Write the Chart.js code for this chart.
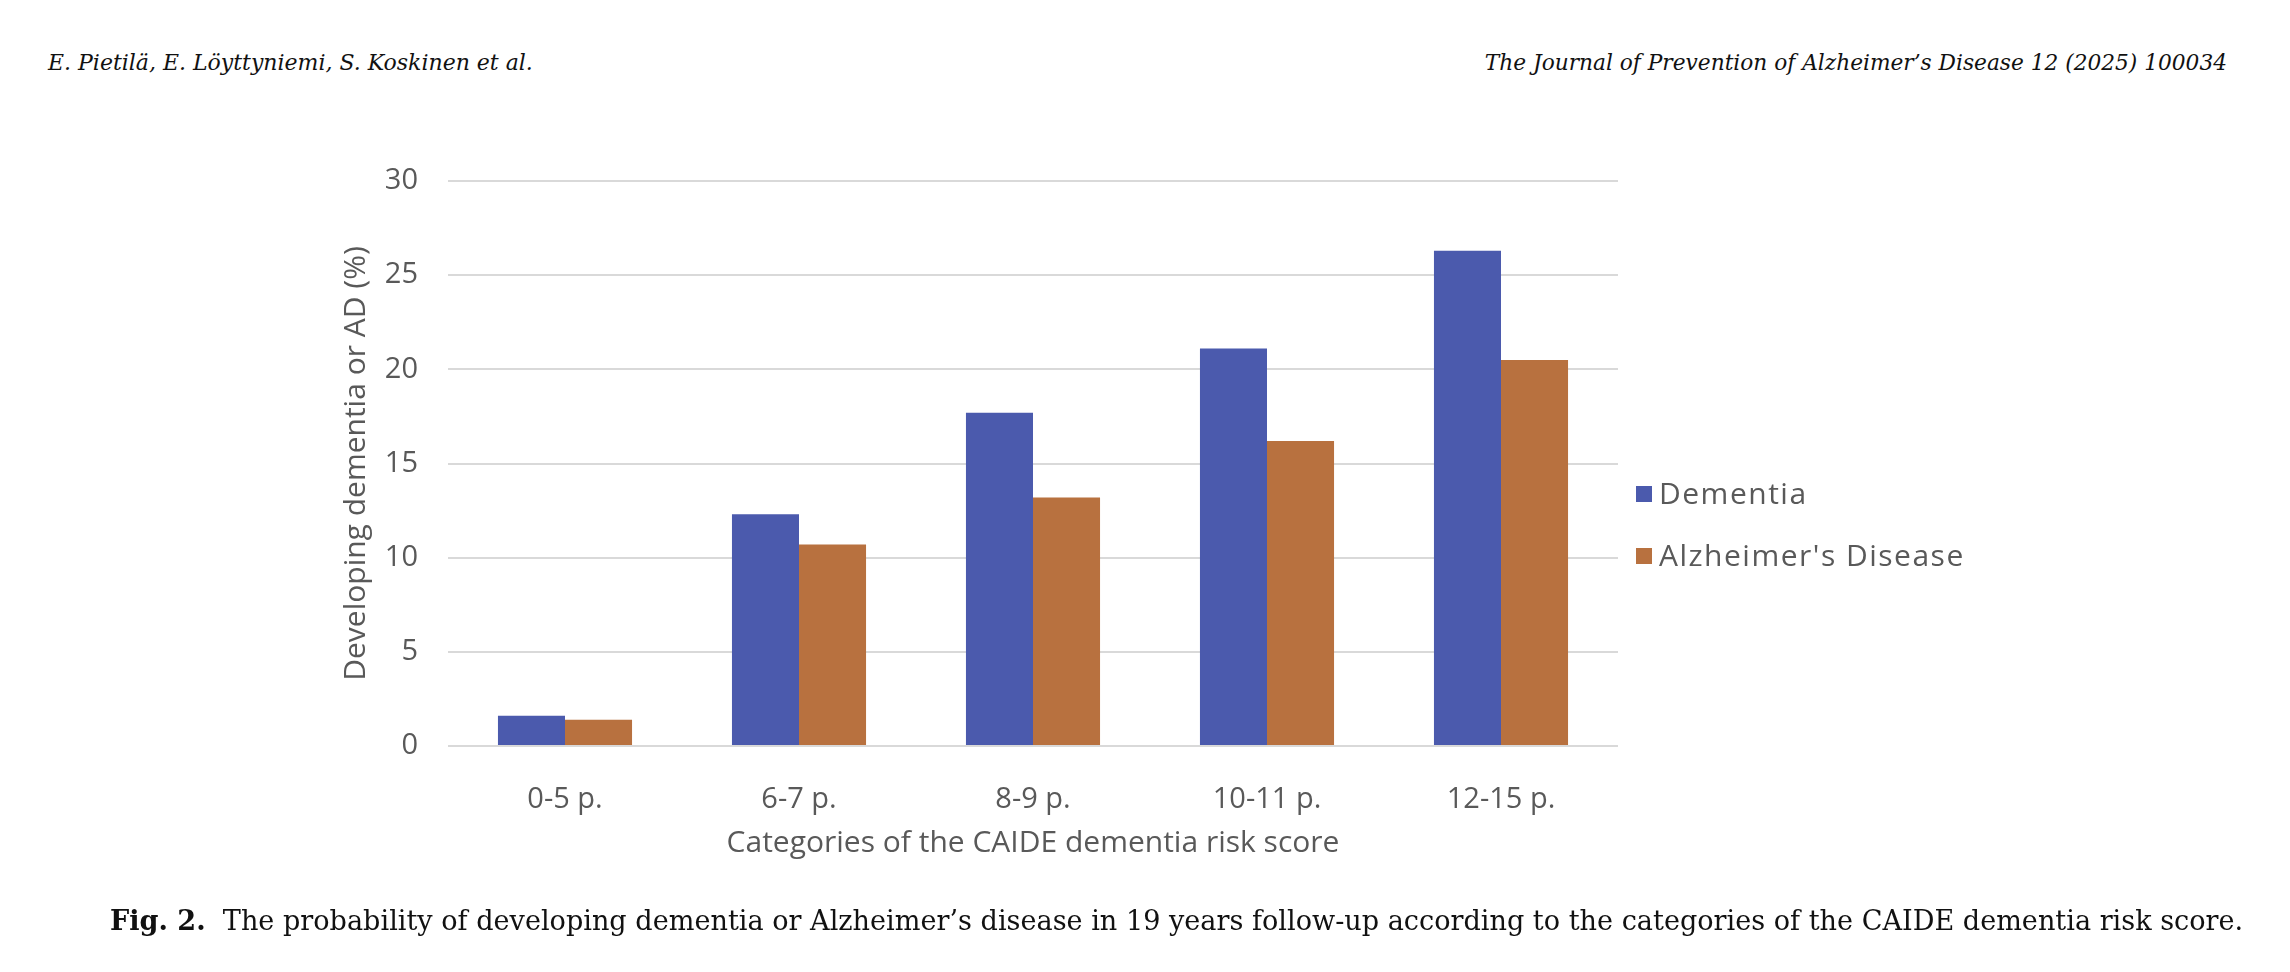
<!DOCTYPE html>
<html>
<head>
<meta charset="utf-8">
<script src="https://cdn.jsdelivr.net/npm/chart.js@4.4.1/dist/chart.umd.min.js"></script>
<style>
  html, body { margin: 0; padding: 0; background: #fff; }
  #page { position: relative; width: 2290px; height: 972px; overflow: hidden; }
  #chart-box { position: absolute; left: 0; top: 0; width: 2290px; height: 972px; }
  .head { position: absolute; top: 50px; font-family: "DejaVu Serif", serif; font-style: italic; font-size: 22px; color: #111; white-space: nowrap; }
  #head-left { left: 48px; }
  #head-right { right: 63px; font-size: 21.7px; }
  #caption { position: absolute; top: 905px; left: 110px; font-family: "DejaVu Serif", serif; font-size: 27.1px; color: #111; white-space: nowrap; }
</style>
</head>
<body>
<div id="page">
  <div class="head" id="head-left">E. Pietilä, E. Löyttyniemi, S. Koskinen et al.</div>
  <div class="head" id="head-right">The Journal of Prevention of Alzheimer’s Disease 12 (2025) 100034</div>
  <div id="chart-box"><canvas id="chart"></canvas></div>
  <div id="caption"><b>Fig. 2.</b>&nbsp; The probability of developing dementia or Alzheimer’s disease in 19 years follow-up according to the categories of the CAIDE dementia risk score.</div>
</div>
<script>
const categories = ['0-5 p.', '6-7 p.', '8-9 p.', '10-11 p.', '12-15 p.'];
const dementia = [1.6, 12.3, 17.7, 21.1, 26.3];
const alzheimers = [1.4, 10.7, 13.2, 16.2, 20.5];
const yTicks = [0, 5, 10, 15, 20, 25, 30];

const FONT = '"Open Sans", Lato, sans-serif';
const TEXT = '#595959';

// legend drawn next to the plot, entries taken from the datasets
const sideLegend = {
    id: 'sideLegend',
    afterDraw(chart) {
        const ctx = chart.ctx;
        const x = chart.chartArea.right + 18;
        const rows = [494, 556];
        ctx.save();
        ctx.font = '30px ' + FONT;
        ctx.letterSpacing = '1.5px';
        ctx.textBaseline = 'middle';
        chart.data.datasets.forEach((ds, i) => {
            ctx.fillStyle = ds.backgroundColor;
            ctx.fillRect(x, rows[i] - 8, 16, 16);
            ctx.fillStyle = TEXT;
            ctx.fillText(ds.label, x + 23, rows[i] + 1);
        });
        ctx.restore();
    }
};

new Chart(document.getElementById('chart'), {
    type: 'bar',
    data: {
        labels: categories,
        datasets: [
            { label: 'Dementia', data: dementia, backgroundColor: '#4B5AAD' },
            { label: "Alzheimer's Disease", data: alzheimers, backgroundColor: '#B8713F' }
        ]
    },
    options: {
        responsive: true,
        maintainAspectRatio: false,
        animation: false,
        layout: { padding: { left: 336, top: 181, right: 672, bottom: 106 } },
        datasets: { bar: { categoryPercentage: 0.573, barPercentage: 1.0 } },
        plugins: { legend: { display: false }, tooltip: { enabled: false } },
        scales: {
            x: {
                grid: { display: false, drawTicks: false },
                border: { display: false },
                ticks: { color: TEXT, font: { family: FONT, size: 29 }, padding: 36 },
                title: { display: true, text: 'Categories of the CAIDE dementia risk score', color: TEXT, font: { family: FONT, size: 30 }, padding: { top: 0, bottom: 5 } },
                afterFit: (s) => { s.height = 120; }
            },
            y: {
                min: 0, max: 30,
                afterBuildTicks: (s) => { s.ticks = yTicks.map(v => ({ value: v })); },
                grid: { color: '#D9D9D9', lineWidth: 2, drawTicks: false },
                border: { display: false },
                ticks: { color: TEXT, font: { family: FONT, size: 29 }, padding: 30 },
                title: { display: true, text: 'Developing dementia or AD (%)', color: TEXT, font: { family: FONT, size: 30 }, padding: { top: 2, bottom: 0 } },
                afterFit: (s) => { s.width = 112; }
            }
        }
    },
    plugins: [sideLegend]
});
</script>
</body>
</html>
